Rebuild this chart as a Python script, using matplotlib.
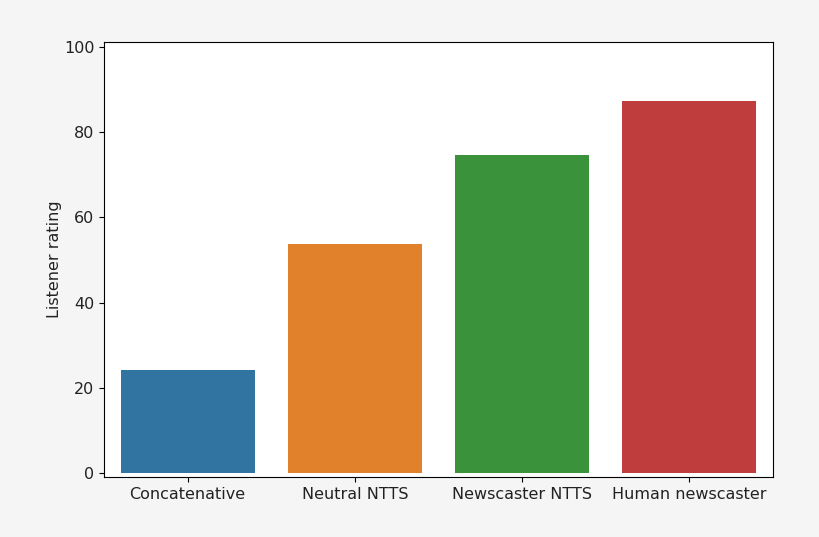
import matplotlib
matplotlib.use('Agg')
import matplotlib.pyplot as plt
import seaborn as sns

systems = ['Concatenative', 'Neutral NTTS', 'Newscaster NTTS', 'Human newscaster']
ratings = [24.2, 53.8, 74.6, 87.3]

fig = plt.figure(figsize=(8.2, 5.37), dpi=100, facecolor='#f5f5f5')
ax = fig.add_axes([0.1268, 0.1117, 0.8159, 0.8095])
sns.barplot(x=systems, y=ratings, hue=systems, palette='tab10', saturation=0.75,
            legend=False, ax=ax)
ax.set_ylim(-0.9, 101)
ax.set_ylabel('Listener rating', fontsize=11.5, color='#222222', labelpad=1)
ax.tick_params(labelsize=11.5, labelcolor='#222222')

fig.savefig('out.png', dpi=100, facecolor=fig.get_facecolor())
